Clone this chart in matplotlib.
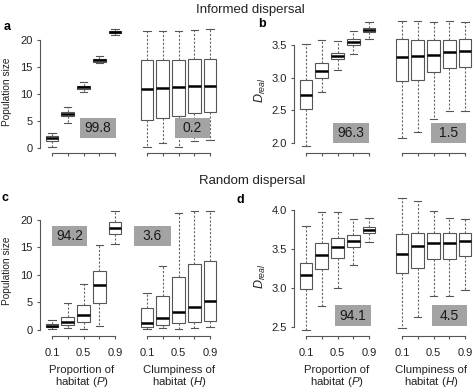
import matplotlib
matplotlib.use('Agg')
import matplotlib.pyplot as plt
from matplotlib.patches import Rectangle

plt.rcParams['font.family'] = ['Liberation Sans', 'DejaVu Sans']
plt.rcParams['mathtext.fontset'] = 'custom'
plt.rcParams['mathtext.rm'] = 'Liberation Sans'
plt.rcParams['mathtext.it'] = 'Liberation Sans:italic'

# five-number summaries per box: (whisker low, Q1, median, Q3, whisker high)
# a: informed dispersal, population size
a_P = [(0.2, 1.3, 1.75, 2.2, 2.7), (4.5, 5.8, 6.25, 6.7, 7.5), (10.3, 10.9, 11.2, 11.5, 12.2),
       (15.7, 16.0, 16.3, 16.5, 17.0), (20.9, 21.3, 21.5, 21.7, 22.0)]
a_H = [(0.2, 5.1, 10.9, 16.2, 21.7), (0.8, 5.6, 11.1, 16.2, 21.7), (0.2, 5.9, 11.2, 16.35, 21.7),
       (1.2, 6.4, 11.4, 16.5, 21.85), (1.5, 6.6, 11.5, 16.5, 22.0)]
# b: informed dispersal, D_real
b_P = [(1.94, 2.51, 2.73, 2.96, 3.51), (2.78, 2.99, 3.10, 3.23, 3.58), (3.12, 3.29, 3.33, 3.38, 3.56),
       (3.37, 3.50, 3.54, 3.59, 3.72), (3.59, 3.70, 3.73, 3.76, 3.86)]
b_H = [(2.07, 2.95, 3.31, 3.60, 3.87), (2.16, 2.97, 3.33, 3.58, 3.87), (2.36, 3.08, 3.35, 3.58, 3.85),
       (2.49, 3.15, 3.39, 3.58, 3.87), (2.48, 3.16, 3.41, 3.60, 3.86)]
# c: random dispersal, population size
c_P = [(0.05, 0.4, 0.67, 0.97, 1.8), (0.24, 0.85, 1.46, 2.37, 4.9), (0.15, 1.34, 2.74, 4.5, 8.3),
       (0.67, 4.8, 8.1, 10.7, 15.4), (15.7, 17.4, 18.6, 19.7, 21.6)]
c_H = [(0.1, 0.5, 1.2, 3.9, 6.75), (0.24, 0.85, 2.1, 6.2, 11.6), (0.05, 1.15, 3.2, 9.6, 21.2),
       (0.36, 1.4, 4.1, 11.9, 21.6), (0.43, 1.64, 5.2, 12.6, 21.6)]
# d: random dispersal, D_real
d_P = [(2.46, 2.98, 3.16, 3.32, 3.80), (2.77, 3.24, 3.42, 3.57, 3.98), (3.00, 3.38, 3.52, 3.64, 3.97),
       (3.29, 3.52, 3.60, 3.68, 3.88), (3.59, 3.71, 3.74, 3.78, 3.90)]
d_H = [(2.48, 3.19, 3.44, 3.69, 4.16), (2.63, 3.26, 3.54, 3.71, 4.11), (2.89, 3.37, 3.58, 3.71, 3.99),
       (2.89, 3.37, 3.58, 3.70, 3.90), (2.97, 3.41, 3.60, 3.71, 3.89)]

# variance explained (%) shown in grey boxes
pct = {'a': ('99.8', '0.2'), 'b': ('96.3', '1.5'), 'c': ('94.2', '3.6'), 'd': ('94.1', '4.5')}
x_labels = ['0.1', '', '0.5', '', '0.9']

W, H = 474, 391
def fx(x): return x / W
def fy(y): return 1 - y / H

fig = plt.figure(figsize=(W / 100, H / 100), dpi=100)

GREY = '#555555'
TXT = '#222222'

def draw_group(ax, boxes):
    stats = [dict(whislo=b[0], q1=b[1], med=b[2], q3=b[3], whishi=b[4]) for b in boxes]
    ax.bxp(stats, positions=range(1, 6), widths=0.8, capwidths=0.45, showfliers=False,
           patch_artist=True, manage_ticks=False,
           boxprops=dict(facecolor='white', edgecolor=GREY, linewidth=0.8),
           medianprops=dict(color='black', linewidth=1.8),
           whiskerprops=dict(color='#666666', linewidth=0.8, linestyle=(0, (2, 1.5))),
           capprops=dict(color=GREY, linewidth=0.8))

def make_panel(boxes_P, boxes_H, xl, xr, top, bot, ylim, yticks, yfmt, bottom_row):
    for boxes, (x0, x1), xlim, left in [(boxes_P, xl, (0.25, 5.5), True),
                                        (boxes_H, xr, (0.5, 5.5), False)]:
        ax = fig.add_axes([fx(x0), fy(bot), (x1 - x0) / W, (bot - top) / H])
        draw_group(ax, boxes)
        ax.set_xlim(*xlim)
        ax.set_ylim(*ylim)
        for s in ['top', 'right']:
            ax.spines[s].set_visible(False)
        ax.spines['bottom'].set_bounds(1, 5)
        ax.spines['bottom'].set_color(GREY)
        ax.set_xticks(range(1, 6))
        ax.set_xticklabels(x_labels if bottom_row else [''] * 5)
        ax.tick_params(axis='x', length=2.5, width=0.8, color=GREY, pad=6,
                       labelsize=8, labelcolor=TXT)
        if left:
            ax.spines['left'].set_bounds(yticks[0], yticks[-1])
            ax.spines['left'].set_color(GREY)
            ax.set_yticks(yticks)
            ax.set_yticklabels([yfmt.format(v) for v in yticks])
            ax.tick_params(axis='y', length=2.5, width=0.8, color=GREY, pad=3,
                           labelsize=8, labelcolor=TXT)
        else:
            ax.spines['left'].set_visible(False)
            ax.set_yticks([])
        ax.patch.set_alpha(0)

make_panel(a_P, a_H, (40.2, 122.9), (139.1, 217.9), 26.0, 153.1, (-1, 22.6),
           [0, 5, 10, 15, 20], '{:.0f}', False)
make_panel(b_P, b_H, (294.2, 376.9), (394.1, 472.9), 15.8, 153.0, (1.84, 3.95),
           [2.0, 2.5, 3.0, 3.5], '{:.1f}', False)
make_panel(c_P, c_H, (40.2, 122.9), (139.1, 217.9), 206.3, 335.7, (-1.1, 22.5),
           [0, 5, 10, 15, 20], '{:.0f}', True)
make_panel(d_P, d_H, (294.2, 376.9), (394.1, 472.9), 186.7, 335.7, (2.384, 4.3),
           [2.5, 3.0, 3.5, 4.0], '{:.1f}', True)

# grey boxes with percentages
grey_boxes = {
    'a': [(80, 116, 118, 138), (175, 210, 118, 138)],
    'b': [(333, 369, 123, 143), (431, 466, 123, 143)],
    'c': [(52, 87, 226, 246), (134, 171, 226, 246)],
    'd': [(335, 371, 305, 326), (432, 467, 305, 326)],
}
for key, rects in grey_boxes.items():
    for (x0, x1, y0, y1), txt in zip(rects, pct[key]):
        fig.add_artist(Rectangle((fx(x0), fy(y1)), (x1 - x0) / W, (y1 - y0) / H,
                                 transform=fig.transFigure, facecolor='#a3a3a3',
                                 edgecolor='none'))
        fig.text(fx((x0 + x1) / 2), fy((y0 + y1) / 2), txt, ha='center', va='center',
                 fontsize=10, color='#1a1a1a')

# titles and labels
fig.text(fx(250), fy(10), 'Informed dispersal', ha='center', va='center', fontsize=9.5, color=TXT)
fig.text(fx(252), fy(181), 'Random dispersal', ha='center', va='center', fontsize=9.5, color=TXT)
for lab, x, y in [('a', 7, 27), ('b', 262, 24), ('c', 5, 198), ('d', 240, 200)]:
    fig.text(fx(x), fy(y), lab, ha='center', va='center', fontsize=9, fontweight='bold')

fig.text(fx(7), fy(92), 'Population size', rotation=90, ha='center', va='center', fontsize=7.3, color=TXT)
fig.text(fx(7), fy(271), 'Population size', rotation=90, ha='center', va='center', fontsize=7.3, color=TXT)
fig.text(fx(260), fy(90), r'$D_{real}$', rotation=90, ha='center', va='center', fontsize=9, color=TXT)
fig.text(fx(260), fy(276), r'$D_{real}$', rotation=90, ha='center', va='center', fontsize=9, color=TXT)

for x, name, sym in [(82, 'Proportion of', 'P'), (179, 'Clumpiness of', 'H'),
                     (337, 'Proportion of', 'P'), (431, 'Clumpiness of', 'H')]:
    fig.text(fx(x), fy(377), name + '\nhabitat ($' + sym + '$)', ha='center', va='center',
             fontsize=8.2, linespacing=1.05, color=TXT)

fig.savefig('out.png', dpi=100)
